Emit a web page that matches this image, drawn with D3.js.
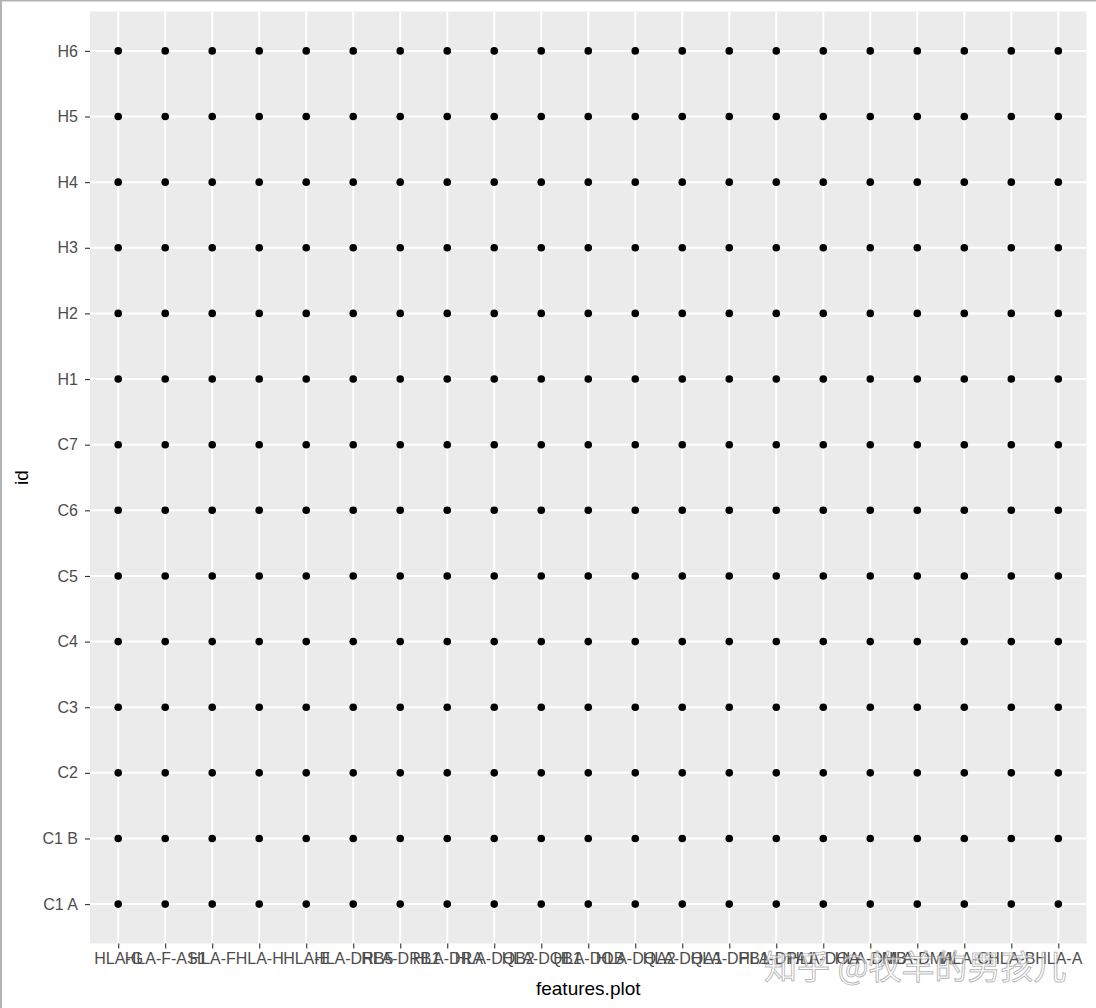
<!DOCTYPE html>
<html><head><meta charset="utf-8">
<script src="https://cdn.jsdelivr.net/npm/d3@7"></script>
<style>body{margin:0;background:#fff}svg{display:block}</style>
</head><body>
<script>
const features = ["HLA-G","HLA-F-AS1","HLA-F","HLA-H","HLA-E","HLA-DRB5","HLA-DRB1","HLA-DRA","HLA-DQB2","HLA-DQB1","HLA-DOB","HLA-DQA2","HLA-DQA1","HLA-DPB1","HLA-DPA1","HLA-DOA","HLA-DMB","HLA-DMA","HLA-C","HLA-B","HLA-A"];
const ids = ["C1 A","C1 B","C2","C3","C4","C5","C6","C7","H1","H2","H3","H4","H5","H6"];
const xTitle = "features.plot", yTitle = "id";

const W = 1096, H = 1008;
const svg = d3.select("body").append("svg").attr("width", W).attr("height", H);
svg.append("rect").attr("width", W).attr("height", H).attr("fill", "#fff");
svg.append("line").attr("x1",0).attr("x2",W).attr("y1",0.5).attr("y2",0.5).attr("stroke","#b3b3b3").attr("stroke-width",2);
svg.append("line").attr("x1",1).attr("x2",1).attr("y1",0).attr("y2",H).attr("stroke","#b3b3b3").attr("stroke-width",2);

const pl = 90, pr = 1086.5, pt = 11.5, pb = 943.5;
const x = d3.scalePoint().domain(features).range([pl, pr]).padding(0.6);
const y = d3.scalePoint().domain(ids).range([pb, pt]).padding(0.6);

svg.append("rect").attr("x", pl).attr("y", pt).attr("width", pr - pl).attr("height", pb - pt).attr("fill", "#EBEBEB");
const g = svg.append("g");
g.selectAll(".vg").data(features).join("line").attr("x1", d => x(d)).attr("x2", d => x(d)).attr("y1", pt).attr("y2", pb).attr("stroke", "#fff").attr("stroke-width", 2);
g.selectAll(".hg").data(ids).join("line").attr("y1", d => y(d)).attr("y2", d => y(d)).attr("x1", pl).attr("x2", pr).attr("stroke", "#fff").attr("stroke-width", 2);

const pts = [];
ids.forEach(i => features.forEach(f => pts.push({f, i})));
g.selectAll("circle").data(pts).join("circle").attr("cx", d => x(d.f)).attr("cy", d => y(d.i)).attr("r", 3.8).attr("fill", "#000");

const font = "'Liberation Sans', Arial, sans-serif";
const xa = svg.append("g").attr("transform", `translate(0,${pb})`).call(d3.axisBottom(x).tickSize(5).tickPadding(4));
xa.select(".domain").remove();
xa.selectAll(".tick line").attr("stroke", "#333").attr("stroke-width", 1.1);
xa.selectAll(".tick text").attr("fill", "#4D4D4D").style("font-family", font).style("font-size", "16px");

const ya = svg.append("g").attr("transform", `translate(${pl},0)`).call(d3.axisLeft(y).tickSize(5).tickPadding(7));
ya.select(".domain").remove();
ya.selectAll(".tick line").attr("stroke", "#333").attr("stroke-width", 1.1);
ya.selectAll(".tick text").attr("fill", "#4D4D4D").style("font-family", font).style("font-size", "16px");

svg.append("text").attr("x", (pl + pr) / 2).attr("y", 995).attr("text-anchor", "middle").style("font-family", font).style("font-size", "19px").attr("fill", "#000").text(xTitle);
svg.append("text").attr("transform", `translate(28,${(pt + pb) / 2}) rotate(-90)`).attr("text-anchor", "middle").style("font-family", font).style("font-size", "19px").attr("fill", "#000").text(yTitle);

svg.append("text").attr("x", 764).attr("y", 979).style("font-family", "'Noto Sans CJK SC', sans-serif").style("font-size", "33px")
  .attr("fill", "#ffffff").attr("fill-opacity", 0.55).attr("stroke", "#8a8a8a").attr("stroke-opacity", 0.6).attr("stroke-width", 1).text("知乎 @牧羊的男孩儿");
</script>
</body></html>
